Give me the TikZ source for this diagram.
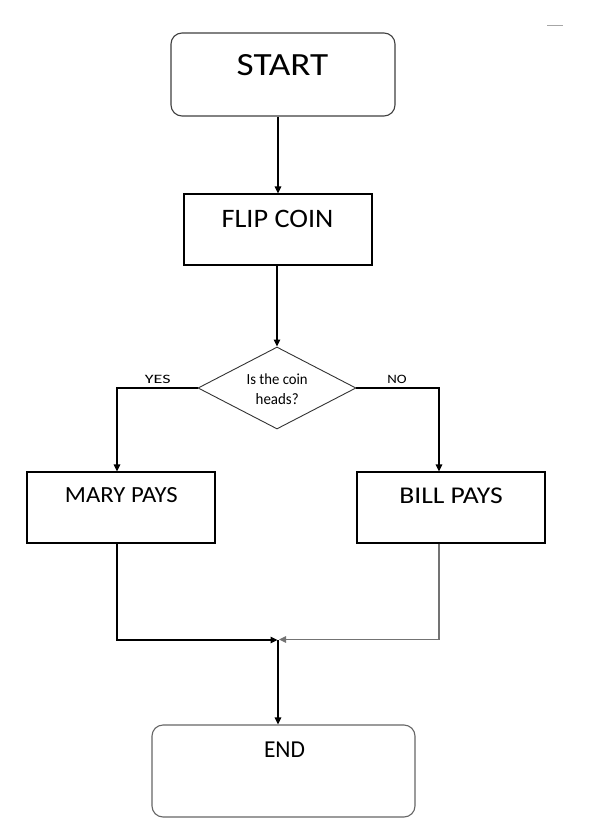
\documentclass[tikz,border=0pt]{standalone}
\usepackage{graphicx}
\usepackage{fontspec}
\setmainfont{Carlito}
\usetikzlibrary{arrows.meta,shapes.geometric}
\newcommand{\fitbox}[3]{\resizebox{#1pt}{#2pt}{#3}}
\begin{document}
\begin{tikzpicture}[x=1pt,y=-1pt,
  line width=1.1pt,
  arr/.style={-{Triangle[length=7pt,width=6.5pt]}},
  term/.style={draw=black!75,rounded corners=11pt,inner sep=0pt},
  proc/.style={draw=black,inner sep=0pt},
  dec/.style={draw=black!80,line width=0.9pt,diamond,inner sep=0pt,minimum width=158pt,minimum height=82pt},
  txt/.style={inner sep=0pt,anchor=base}]
\useasboundingbox (0,0) rectangle (598,832);
\fill[white] (0,0) rectangle (598,832);
% tiny mark top right
\draw[black!35,line width=0.6pt] (547,25) -- (563,25);
% shapes
\node[term,minimum width=224pt,minimum height=83pt] (start) at (283,74.5) {};
\node[proc,minimum width=188pt,minimum height=71pt] (flip) at (278,229.5) {};
\node[dec] (dec) at (277,388) {};
\node[proc,minimum width=188pt,minimum height=71pt] (mary) at (121,507.5) {};
\node[proc,minimum width=188pt,minimum height=71pt] (bill) at (451,507.5) {};
\node[term,draw=black!60,minimum width=263pt,minimum height=92pt] (end) at (283.5,771) {};
% texts
\node[txt] (tstart) at (282.5,76) {\fitbox{91.6}{21}{START}};
\node[txt] (tflip) at (277.5,227.3) {\fitbox{111.7}{17.3}{FLIP COIN}};
\node[txt] (tdec1) at (277.2,384.7) {\fitbox{61}{10.7}{Is the coin}};
\node[txt] (tdec2) at (277.2,404) {\fitbox{43}{11}{heads?}};
\node[txt] (tmary) at (121.3,502.7) {\fitbox{112.7}{15}{MARY PAYS}};
\node[txt] (tbill) at (451,503.3) {\fitbox{103.4}{15.6}{BILL PAYS}};
\node[txt] (tend) at (284.5,757.3) {\fitbox{41}{15.6}{END}};
\node[txt] (yes) at (157.8,383.3) {\fitbox{25.7}{8.3}{YES}};
\node[txt] (no) at (397,383.3) {\fitbox{19.3}{8.3}{NO}};
% connectors
\coordinate (ml) at (277.5,640);
\coordinate (mr) at (279,639.5);
\coordinate (m) at (278,640);
\coordinate (yk) at (117,388);
\coordinate (nk) at (439,388);
\draw[arr] (start.south -| 278,0) -- (flip.north -| 278,0);
\draw[arr] (flip.south -| 277,0) -- (dec.north);
\draw[arr] (dec.west) -- (yk) -- (yk |- mary.north);
\draw[arr] (dec.east) -- (nk) -- (nk |- bill.north);
\draw[arr] (mary.south -| 117,0) -- (117,640) -- (ml);
\draw[arr,draw=black!55,line width=1.4pt] (bill.south -| 439,0) -- (439,639.5) -- (mr);
\draw[arr] (m) -- (end.north -| m);
\end{tikzpicture}
\end{document}
